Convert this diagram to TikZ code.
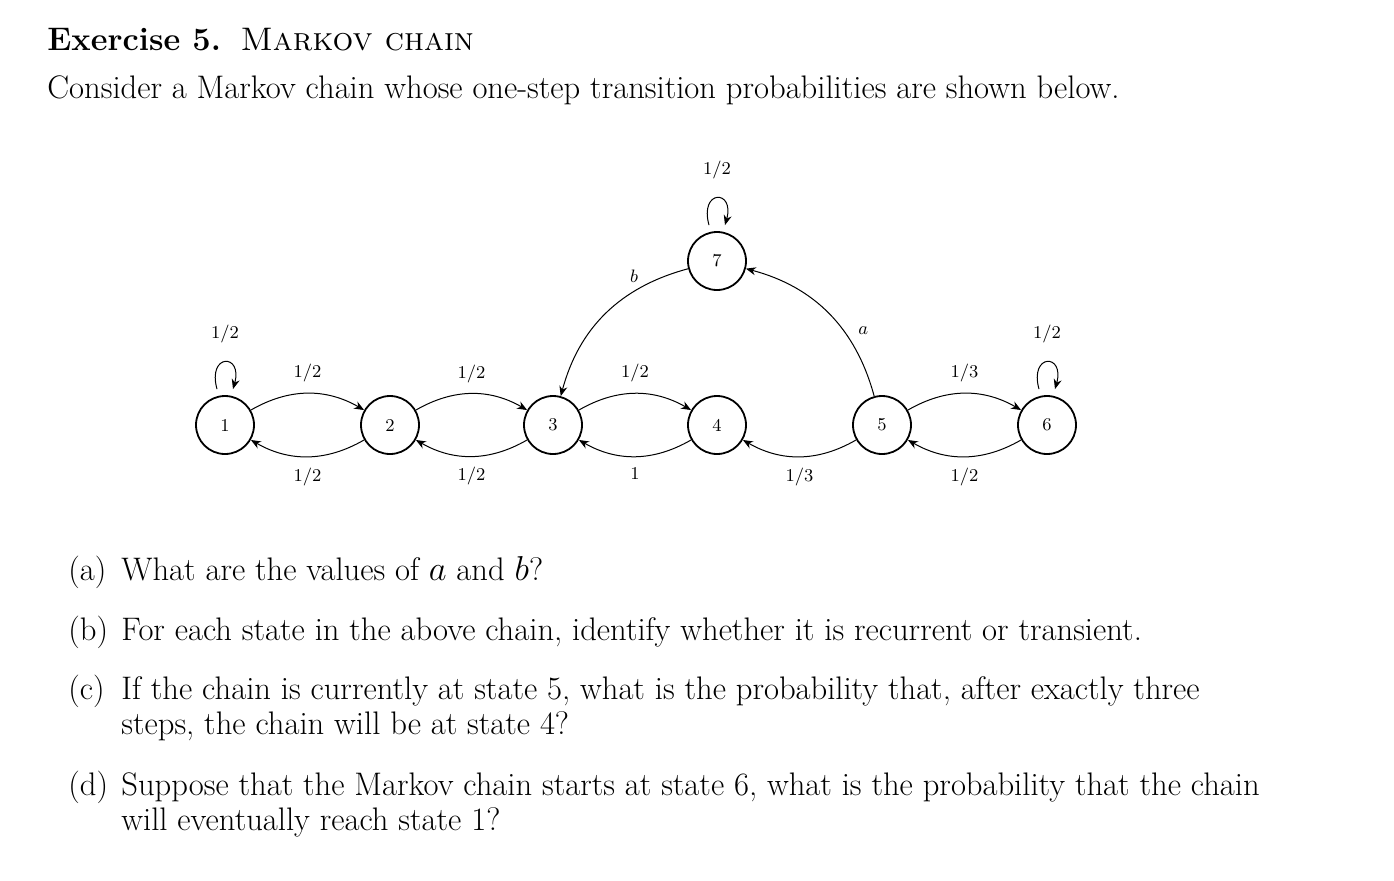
\documentclass[tikz,border=0pt]{standalone}
\usetikzlibrary{arrows.meta}
\begin{document}
\begin{tikzpicture}[x=0.5pt,y=-0.5pt,
  st/.style={circle,draw,line width=0.9pt,minimum size=29pt,inner sep=0pt,font=\fontsize{9}{10}\selectfont},
  lab/.style={font=\fontsize{9}{10}\selectfont},
  tr/.style={-{Stealth[length=5pt,width=4pt]},line width=0.5pt},
  txt/.style={anchor=base west,inner sep=0pt,font=\fontsize{16.3}{19}\selectfont}]
\useasboundingbox (0,0) rectangle (1394,880);
\node[txt] (h1) at (47,50) {\textbf{Exercise 5.}\ \ \textsc{Markov chain}};
\node[txt] (h2) at (47,98) {Consider a Markov chain whose one-step transition probabilities are shown below.};
\node[st] (n1) at (225,425) {1};
\node[st] (n2) at (390,425) {2};
\node[st] (n3) at (553,425) {3};
\node[st] (n4) at (717,425) {4};
\node[st] (n5) at (882,425) {5};
\node[st] (n6) at (1047,425) {6};
\node[st] (n7) at (717,261) {7};
\draw[tr] (n1) to[bend left=30] node[lab,pos=0.5,above=2pt]{1/2} (n2);
\draw[tr] (n2) to[bend left=30] node[lab,pos=0.5,below=2pt]{1/2} (n1);
\draw[tr] (n2) to[bend left=30] node[lab,pos=0.5,above=2pt]{1/2} (n3);
\draw[tr] (n3) to[bend left=30] node[lab,pos=0.5,below=2pt]{1/2} (n2);
\draw[tr] (n3) to[bend left=30] node[lab,pos=0.5,above=2pt]{1/2} (n4);
\draw[tr] (n4) to[bend left=30] node[lab,pos=0.5,below=2pt]{1} (n3);
\draw[tr] (n5) to[bend left=30] node[lab,pos=0.5,below=2pt]{1/3} (n4);
\draw[tr] (n5) to[bend left=30] node[lab,pos=0.5,above=2pt]{1/3} (n6);
\draw[tr] (n6) to[bend left=30] node[lab,pos=0.5,below=2pt]{1/2} (n5);
\draw[tr] (n7) to[bend right=30] node[lab,pos=0.3,above=1pt]{$b$} (n3);
\draw[tr] (n5) to[bend right=30] node[lab,pos=0.3,above right=0pt]{$a$} (n7);
\foreach \n in {n1,n6,n7}{
  \draw[tr] ([shift={(-8,-6)}]\n.north) .. controls +(-10,-36) and +(10,-36) .. ([shift={(8,-6)}]\n.north)
    node[lab,pos=0.5,above=6pt]{1/2};
}
\node[txt] (la) at (68,580) {(a)};
\node[txt] (qa) at (121,580) {What are the values of $a$ and $b$?};
\node[txt] (lb) at (68,640) {(b)};
\node[txt] (qb) at (121,640) {For each state in the above chain, identify whether it is recurrent or transient.};
\node[txt] (lc) at (68,699) {(c)};
\node[txt] (qc) at (121,699) {If the chain is currently at state 5, what is the probability that, after exactly three};
\node[txt] (qc2) at (121,734) {steps, the chain will be at state 4?};
\node[txt] (ld) at (68,795) {(d)};
\node[txt] (qd) at (121,795) {Suppose that the Markov chain starts at state 6, what is the probability that the chain};
\node[txt] (qd2) at (121,830) {will eventually reach state 1?};
\end{tikzpicture}
\end{document}
